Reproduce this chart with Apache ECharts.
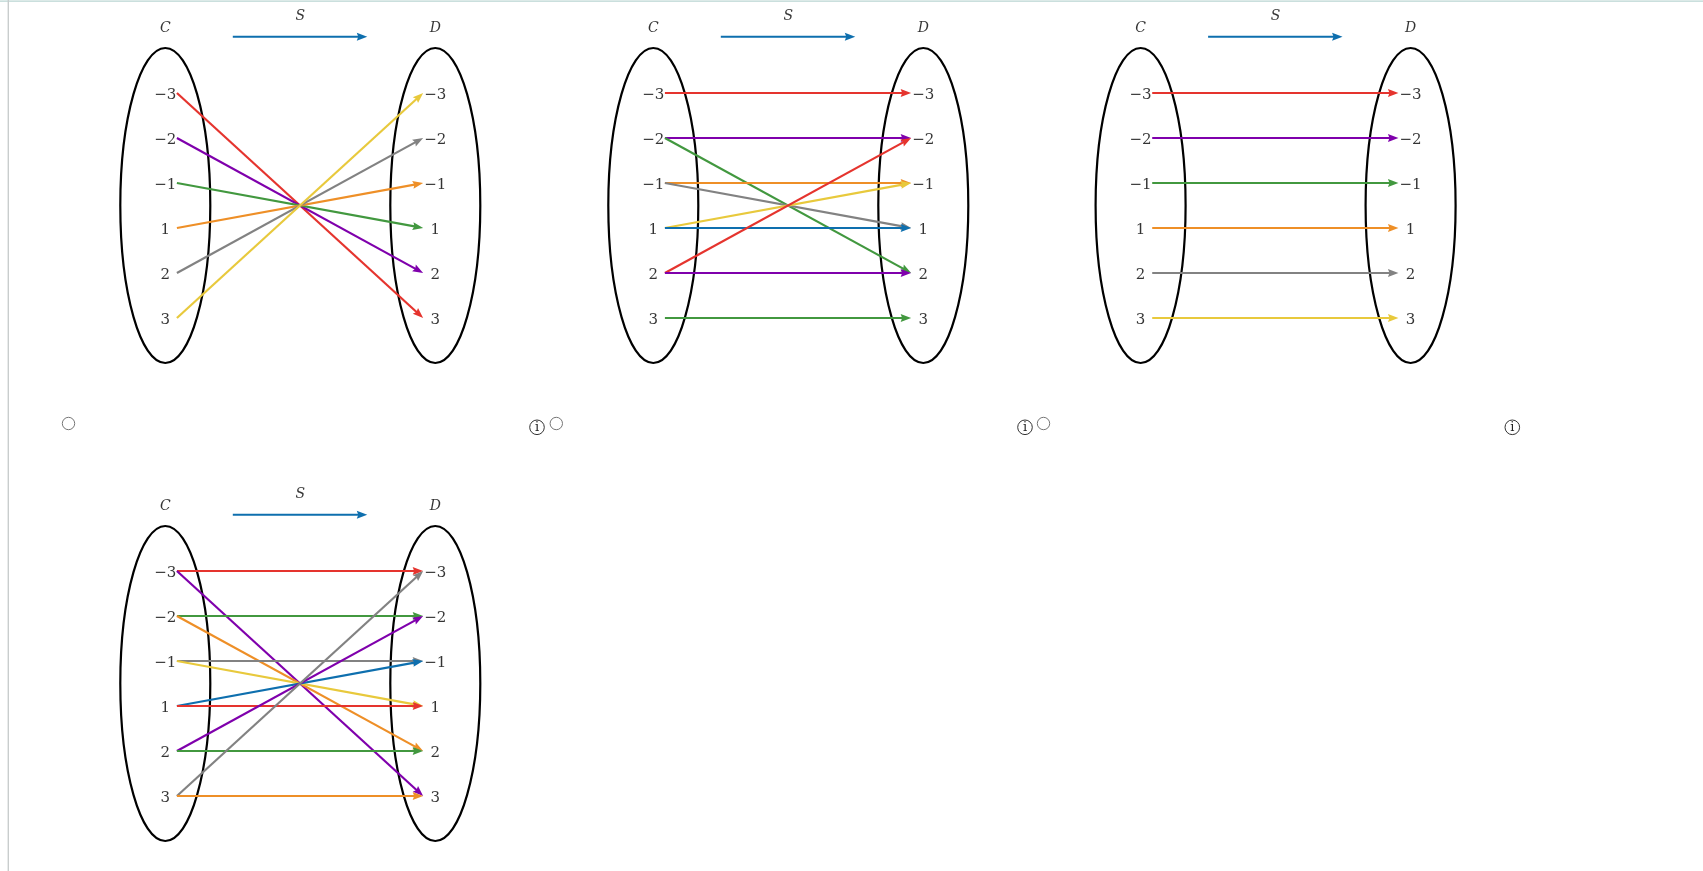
<!DOCTYPE html>
<html>
<head>
<meta charset="utf-8">
<title>Mappings</title>
<style>
  html, body { margin: 0; padding: 0; background: #fff; }
  #container { width: 1703px; height: 871px; }
</style>
<script src="https://cdn.jsdelivr.net/npm/echarts@6/dist/echarts.min.js"></script>
</head>
<body>
<div id="container"></div>
<script>
const elements = ['−3', '−2', '−1', '1', '2', '3']
const setNames = ['C', 'D']
const mapName = 'S'

const red = '#e5342e'
const purple = '#7f00ac'
const green = '#42983f'
const orange = '#ee8f27'
const gray = '#828282'
const yellow = '#e8c93c'
const blue = '#0e6fae'

// row of the source element, row of the target element, colour
const panel1From = [0, 1, 2, 3, 4, 5]
const panel1To = [5, 4, 3, 2, 1, 0]
const panel1Colors = [red, purple, green, orange, gray, yellow]

const panel2From = [0, 1, 1, 2, 2, 3, 3, 4, 4, 5]
const panel2To = [0, 1, 4, 2, 3, 2, 3, 1, 4, 5]
const panel2Colors = [red, purple, green, orange, gray, yellow, blue, red, purple, green]

const panel3From = [0, 1, 2, 3, 4, 5]
const panel3To = [0, 1, 2, 3, 4, 5]
const panel3Colors = [red, purple, green, orange, gray, yellow]

const panel4From = [0, 0, 1, 1, 2, 2, 3, 3, 4, 4, 5, 5]
const panel4To = [0, 5, 1, 4, 2, 3, 2, 3, 1, 4, 0, 5]
const panel4Colors = [red, purple, green, orange, gray, yellow, blue, red, purple, green, gray, orange]

const panels = [
  { left: 165.3, top: 93, from: panel1From, to: panel1To, colors: panel1Colors },
  { left: 653.3, top: 93, from: panel2From, to: panel2To, colors: panel2Colors },
  { left: 1140.6, top: 93, from: panel3From, to: panel3To, colors: panel3Colors },
  { left: 165.3, top: 571, from: panel4From, to: panel4To, colors: panel4Colors },
]

const radios = [[68.5, 423.5], [556.3, 423.5], [1043.5, 423.5]]
const infos = [[537, 427.3], [1025, 427.3], [1512.3, 427.3]]

const mathFont = '"DejaVu Serif"'
const arrowStart = 0.043
const arrowEnd = 0.955

// line with a slightly notched head, drawn in pixels from two data points
const arrowShape = (a, b, color) => {
  const angle = Math.atan2(b[1] - a[1], b[0] - a[0])
  const at = (back, side) => [
    b[0] - back * Math.cos(angle) - side * Math.sin(angle),
    b[1] - back * Math.sin(angle) + side * Math.cos(angle),
  ]
  return {
    type: 'group',
    children: [
      {
        type: 'line',
        shape: { x1: a[0], y1: a[1], x2: at(6, 0)[0], y2: at(6, 0)[1] },
        style: { stroke: color, lineWidth: 2.2 },
      },
      {
        type: 'polygon',
        shape: { points: [b, at(10.5, 3.9), at(9, 0), at(10.5, -3.9)] },
        style: { fill: color },
      },
    ],
  }
}

const series = []
panels.forEach((panel, i) => {
  // the two set ovals
  series.push({
    type: 'custom',
    xAxisIndex: i,
    yAxisIndex: i,
    silent: true,
    data: [[0, 2.5], [1, 2.5]],
    renderItem: (params, api) => {
      const c = api.coord([api.value(0), api.value(1)])
      const size = api.size([1 / 6, 3.5])
      return {
        type: 'ellipse',
        shape: { cx: c[0], cy: c[1], rx: size[0], ry: size[1] },
        style: { fill: 'none', stroke: '#000', lineWidth: 2.2 },
      }
    },
  })
  // arrows of the mapping
  series.push({
    type: 'custom',
    xAxisIndex: i,
    yAxisIndex: i,
    silent: true,
    data: panel.from.map((row, k) => [row, panel.to[k]]),
    renderItem: (params, api) => arrowShape(
      api.coord([arrowStart, api.value(0)]),
      api.coord([arrowEnd, api.value(1)]),
      panel.colors[params.dataIndex],
    ),
  })
  // arrow of S above the sets
  series.push({
    type: 'custom',
    xAxisIndex: i,
    yAxisIndex: i,
    silent: true,
    data: [[0.25, 0.748, -1.25]],
    renderItem: (params, api) => arrowShape(
      api.coord([api.value(0), api.value(2)]),
      api.coord([api.value(1), api.value(2)]),
      blue,
    ),
  })
  // element labels
  series.push({
    type: 'scatter',
    xAxisIndex: i,
    yAxisIndex: i,
    silent: true,
    clip: false,
    symbolSize: 0,
    data: elements.flatMap((name, row) => [
      { name, value: [0, row] },
      { name, value: [1, row] },
    ]),
    label: {
      show: true,
      position: 'inside',
      formatter: '{b}',
      offset: [0, 2.5],
      color: '#000',
      fontFamily: mathFont,
      fontSize: 15,
    },
  })
  // set names and map name
  series.push({
    type: 'scatter',
    xAxisIndex: i,
    yAxisIndex: i,
    silent: true,
    clip: false,
    symbolSize: 0,
    data: [
      { name: setNames[0], value: [0, -1.44] },
      { name: setNames[1], value: [1, -1.44] },
      { name: mapName, value: [0.5, -1.7] },
    ],
    label: {
      show: true,
      position: 'inside',
      formatter: '{b}',
      color: '#000',
      fontFamily: mathFont,
      fontStyle: 'italic',
      fontSize: 14,
    },
  })
})

const graphic = [
  { type: 'rect', shape: { x: 0, y: 0.5, width: 1703, height: 1.2 }, style: { fill: '#b9d5d2' } },
  { type: 'rect', shape: { x: 7.6, y: 0, width: 1.4, height: 871 }, style: { fill: '#c9cdcd' } },
]
radios.forEach(([x, y]) => {
  graphic.push({
    type: 'circle',
    shape: { cx: x, cy: y, r: 6.2 },
    style: { fill: '#fff', stroke: '#767676', lineWidth: 1 },
  })
})
infos.forEach(([x, y]) => {
  graphic.push({
    type: 'circle',
    shape: { cx: x, cy: y, r: 7.3 },
    style: { fill: '#fff', stroke: '#333', lineWidth: 1 },
  })
  graphic.push({
    type: 'text',
    x,
    y: y + 0.5,
    style: {
      text: 'i',
      fill: '#222',
      font: '13px "DejaVu Serif"',
      align: 'center',
      verticalAlign: 'middle',
    },
  })
})

const option = {
  animation: false,
  backgroundColor: '#fff',
  grid: panels.map(panel => ({ left: panel.left, top: panel.top, width: 270, height: 225 })),
  xAxis: panels.map((panel, i) => ({ type: 'value', gridIndex: i, min: 0, max: 1, show: false })),
  yAxis: panels.map((panel, i) => ({ type: 'value', gridIndex: i, min: 0, max: 5, inverse: true, show: false })),
  graphic,
  series,
}

const chart = echarts.init(document.getElementById('container'))
chart.setOption(option)
</script>
</body>
</html>
